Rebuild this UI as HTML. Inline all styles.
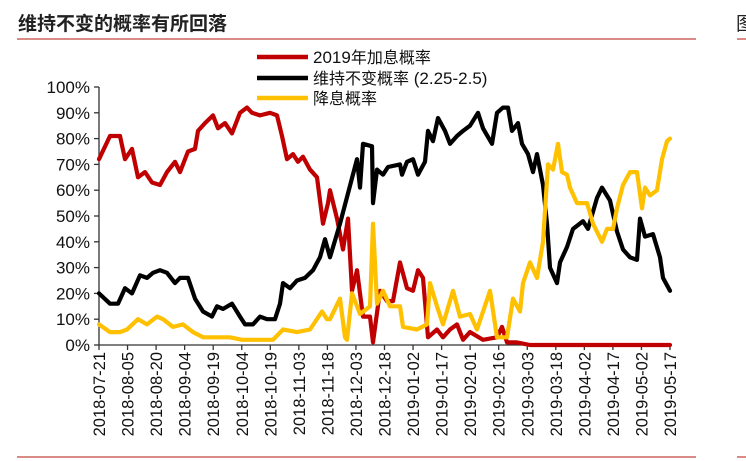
<!DOCTYPE html>
<html><head><meta charset="utf-8"><style>
html,body{margin:0;padding:0;background:#fff;}
svg{display:block;}
</style></head><body>
<svg id="s" width="746" height="461" viewBox="0 0 746 461" xmlns="http://www.w3.org/2000/svg" font-family="Liberation Sans, Noto Sans CJK SC, sans-serif">
<text x="18" y="30" font-size="19" fill="#222" font-family="Noto Sans CJK SC, sans-serif" font-weight="bold">维持不变的概率有所回落</text>
<text x="736" y="30" font-size="19" fill="#222" font-family="Noto Sans CJK SC, sans-serif">图</text>
<line x1="17" y1="39" x2="696" y2="39" stroke="#d98b86" stroke-width="2"/>
<line x1="737" y1="39" x2="746" y2="39" stroke="#d98b86" stroke-width="2"/>
<line x1="17" y1="457" x2="696" y2="457" stroke="#d98b86" stroke-width="2"/>
<line x1="737" y1="457" x2="746" y2="457" stroke="#d98b86" stroke-width="2"/>
<line x1="257" y1="57" x2="308" y2="57" stroke="#c00000" stroke-width="4.5"/>
<line x1="257" y1="78" x2="308" y2="78" stroke="#000" stroke-width="4.5"/>
<line x1="257" y1="98" x2="308" y2="98" stroke="#ffc000" stroke-width="4.5"/>
<text x="313" y="63" font-size="17" fill="#111">2019<tspan font-family="Noto Sans CJK SC, sans-serif" font-size="16">年加息概率</tspan></text>
<text x="313" y="84" font-size="17" fill="#111"><tspan font-family="Noto Sans CJK SC, sans-serif" font-size="16">维持不变概率</tspan> (2.25-2.5)</text>
<text x="313" y="104" font-size="16" fill="#111" font-family="Noto Sans CJK SC, sans-serif">降息概率</text>
<g id="axes"></g>
<g id="series"></g>
</svg>
<script>
var NS="http://www.w3.org/2000/svg";
function Y(v){return 345-2.58*v;}
var ax=document.getElementById("axes");
function el(t,a,p,txt){var e=document.createElementNS(NS,t);for(var k in a)e.setAttribute(k,a[k]);if(txt!=null)e.textContent=txt;p.appendChild(e);return e;}
el("line",{x1:99,y1:Y(100),x2:99,y2:345,stroke:"#333","stroke-width":1.3},ax);
el("line",{x1:99,y1:345,x2:670,y2:345,stroke:"#333","stroke-width":1.3},ax);
for(var i=0;i<=10;i++){var y=Y(i*10);el("line",{x1:94,y1:y,x2:99,y2:y,stroke:"#333","stroke-width":1.3},ax);
el("text",{x:90,y:y+6,"font-size":17,"text-anchor":"end",fill:"#111"},ax,(i*10)+"%");}
var d=["2018-07-21","2018-08-05","2018-08-20","2018-09-04","2018-09-19","2018-10-04","2018-10-19","2018-11-03","2018-11-18","2018-12-03","2018-12-18","2019-01-02","2019-01-17","2019-02-01","2019-02-16","2019-03-03","2019-03-18","2019-04-02","2019-04-17","2019-05-02","2019-05-17"];
for(var i=0;i<d.length;i++){var x=99+i*28.55;el("line",{x1:x,y1:345,x2:x,y2:350,stroke:"#333","stroke-width":1.3},ax);
el("text",{x:0,y:0,"font-size":16.5,"text-anchor":"end",fill:"#111",transform:"translate("+(x+6)+",352) rotate(-90)"},ax,d[i]);}
var red=[99,72,110,81,120,81,125,72,132,76,138,65,145,67,152,63,160,62,167,67,175,71,180,67,188,75,195,76,198,83,205,86,213,89,218,84,225,86,232,82,240,90,247,92,252,90,260,89,270,90,277,89,282,81,287,72,293,74,298,71,303,73,310,68,317,65,323,47,328,55,330,60,337,49,343,37,348,49,352,21,357,29,363,11,370,11,373,1,380,21,387,17,393,17,400,32,407,22,413,21,418,29,423,26,428,3,437,6,443,3,450,6,457,8,463,2,470,5,483,2,497,3,502,7,507,1,517,1,530,0,670,0];
var blk=[99,20,110,16,118,16,125,22,132,20,140,27,147,26,153,28,160,29,167,28,175,24,180,26,188,26,195,18,203,13,212,11,217,15,223,14,232,16,240,11,245,8,253,8,260,11,267,10,275,10,280,16,283,24,290,22,297,25,305,26,313,29,320,34,325,41,330,34,340,47,357,72,360,61,363,78,372,77,373,55,377,68,383,66,388,69,400,70,402,66,407,71,413,72,418,66,425,71,428,83,433,79,438,88,445,83,450,78,457,81,463,83,470,85,478,90,483,84,492,78,497,90,503,92,508,92,512,83,518,86,522,78,528,74,533,67,537,74,543,62,547,47,550,30,557,24,560,32,567,38,573,45,583,48,588,45,597,57,602,61,610,56,617,44,623,37,630,34,637,33,640,49,645,42,653,43,660,34,663,26,670,21];
var yel=[99,8,110,5,120,5,127,6,138,10,147,8,157,11,163,10,173,7,183,8,193,5,203,3,217,3,230,3,242,2,260,2,273,2,283,6,297,5,310,6,322,13,327,10,330,10,340,18,345,3,347,2,352,20,360,12,370,15,373,47,377,16,383,21,390,15,400,15,403,7,417,6,427,8,430,24,437,15,443,8,453,21,460,11,470,12,477,6,490,21,497,3,507,3,513,18,520,13,523,24,530,32,537,26,543,40,548,70,553,68,558,78,562,67,567,66,570,61,577,55,587,55,593,47,602,40,607,45,613,45,617,53,623,62,630,67,637,67,642,53,645,61,650,58,657,60,662,72,667,79,670,80];
var g=document.getElementById("series");
function pl(a,c){var p=[];for(var i=0;i<a.length;i+=2)p.push(a[i]+","+Y(a[i+1]).toFixed(1));
el("polyline",{points:p.join(" "),fill:"none",stroke:c,"stroke-width":4.2,"stroke-linejoin":"round","stroke-linecap":"round"},g);}
pl(red,"#c00000");pl(blk,"#000");pl(yel,"#ffc000");
</script>
</body></html>
